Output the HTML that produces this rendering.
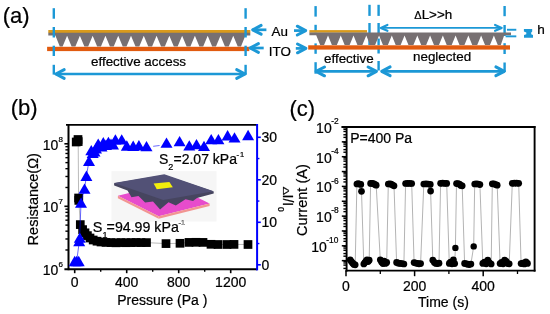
<!DOCTYPE html>
<html><head><meta charset="utf-8"><title>figure</title>
<style>
html,body{margin:0;padding:0;background:#fff;}
svg{display:block;}
text{font-family:"Liberation Sans",Arial,sans-serif;stroke:#000;stroke-width:0.22px;}
</style></head><body>
<svg width="550" height="314" viewBox="0 0 550 314">
<text x="2.8" y="22.6" font-size="22">(a)</text>
<rect x="48.3" y="30.0" width="202.0" height="3.0000000000000027" fill="#d99a1c"/>
<polygon points="48.30,32.70 250.30,32.70 250.30,35.40 245.40,35.40 241.00,46.60 237.74,46.60 233.24,35.80 228.74,46.60 224.96,46.60 220.46,35.80 215.96,46.60 212.18,46.60 207.68,35.80 203.18,46.60 199.40,46.60 194.90,35.80 190.40,46.60 186.62,46.60 182.12,35.80 177.62,46.60 173.84,46.60 169.34,35.80 164.84,46.60 161.06,46.60 156.56,35.80 152.06,46.60 148.28,46.60 143.78,35.80 139.28,46.60 135.50,46.60 131.00,35.80 126.50,46.60 122.72,46.60 118.22,35.80 113.72,46.60 109.94,46.60 105.44,35.80 100.94,46.60 97.16,46.60 92.66,35.80 88.16,46.60 84.38,46.60 79.88,35.80 75.38,46.60 71.60,46.60 67.10,35.80 62.60,46.60 59.80,46.60 55.40,35.40 48.30,35.40" fill="#777072"/>
<rect x="47.1" y="46.8" width="202.20000000000002" height="4.300000000000004" fill="#e15b0f"/>
<rect x="52.599999999999994" y="8.2" width="2.4" height="10.5" fill="#1c98d6"/>
<rect x="52.599999999999994" y="27.0" width="2.4" height="10.5" fill="#1c98d6"/>
<rect x="52.599999999999994" y="45.7" width="2.4" height="10.299999999999997" fill="#1c98d6"/>
<rect x="52.599999999999994" y="64.8" width="2.4" height="9.799999999999997" fill="#1c98d6"/>
<rect x="244.4" y="8.2" width="2.4" height="10.5" fill="#1c98d6"/>
<rect x="244.4" y="27.0" width="2.4" height="10.5" fill="#1c98d6"/>
<rect x="244.4" y="45.7" width="2.4" height="10.299999999999997" fill="#1c98d6"/>
<rect x="244.4" y="64.8" width="2.4" height="9.799999999999997" fill="#1c98d6"/>
<line x1="55.5" y1="74.0" x2="245.4" y2="74.0" stroke="#1c98d6" stroke-width="2.7"/>
<polyline points="64.20,69.60 55.80,74.00 64.20,78.40" fill="none" stroke="#1c98d6" stroke-width="3.0" stroke-linecap="round" stroke-linejoin="round"/>
<polyline points="236.70,69.60 245.10,74.00 236.70,78.40" fill="none" stroke="#1c98d6" stroke-width="3.0" stroke-linecap="round" stroke-linejoin="round"/>
<line x1="252.4" y1="29.8" x2="266.4" y2="29.8" stroke="#1c98d6" stroke-width="2.7"/>
<polyline points="261.10,25.40 252.70,29.80 261.10,34.20" fill="none" stroke="#1c98d6" stroke-width="3.0" stroke-linecap="round" stroke-linejoin="round"/>
<line x1="249.7" y1="48.0" x2="263.7" y2="48.0" stroke="#1c98d6" stroke-width="2.7"/>
<polyline points="258.40,43.60 250.00,48.00 258.40,52.40" fill="none" stroke="#1c98d6" stroke-width="3.0" stroke-linecap="round" stroke-linejoin="round"/>
<text x="271.5" y="35.5" font-size="13.4">Au</text>
<text x="268.8" y="55.7" font-size="13.4">ITO</text>
<text x="91.0" y="65.8" font-size="13.4">effective access</text>
<rect x="368.3" y="4.8" width="2.4" height="11.100000000000001" fill="#1c98d6"/>
<rect x="368.3" y="23.0" width="2.4" height="10.0" fill="#1c98d6"/>
<rect x="368.3" y="39.5" width="2.4" height="5.5" fill="#1c98d6"/>
<rect x="377.40000000000003" y="4.8" width="2.4" height="11.100000000000001" fill="#1c98d6"/>
<rect x="377.40000000000003" y="23.0" width="2.4" height="10.0" fill="#1c98d6"/>
<rect x="377.40000000000003" y="38.5" width="2.4" height="6.799999999999997" fill="#1c98d6"/>
<rect x="377.40000000000003" y="48.5" width="2.4" height="5.0" fill="#1c98d6"/>
<rect x="377.40000000000003" y="61.0" width="2.4" height="9.5" fill="#1c98d6"/>
<rect x="314.40000000000003" y="6.1" width="2.4" height="10.500000000000002" fill="#1c98d6"/>
<rect x="314.40000000000003" y="24.8" width="2.4" height="7.4999999999999964" fill="#1c98d6"/>
<rect x="314.40000000000003" y="43.4" width="2.4" height="10.399999999999999" fill="#1c98d6"/>
<rect x="314.40000000000003" y="62.2" width="2.4" height="11.5" fill="#1c98d6"/>
<rect x="503.40000000000003" y="6.0" width="2.4" height="10.2" fill="#1c98d6"/>
<rect x="503.40000000000003" y="25.0" width="2.4" height="11.0" fill="#1c98d6"/>
<rect x="503.40000000000003" y="43.2" width="2.4" height="10.799999999999997" fill="#1c98d6"/>
<rect x="503.40000000000003" y="62.5" width="2.4" height="9.5" fill="#1c98d6"/>
<rect x="309.4" y="30.1" width="57.60000000000002" height="2.599999999999997" fill="#d99a1c"/>
<polygon points="309.40,32.40 511.00,32.40 511.00,35.20 504.20,35.20 500.80,44.90 497.78,44.90 493.88,35.60 489.98,44.90 485.02,44.90 481.12,35.60 477.22,44.90 472.26,44.90 468.36,35.60 464.46,44.90 459.50,44.90 455.60,35.60 451.70,44.90 446.74,44.90 442.84,35.60 438.94,44.90 433.98,44.90 430.08,35.60 426.18,44.90 421.22,44.90 417.32,35.60 413.42,44.90 408.46,44.90 404.56,35.60 400.66,44.90 395.70,44.90 391.80,35.60 387.90,44.90 382.94,44.90 379.04,35.60 375.14,44.90 370.18,44.90 366.28,35.60 362.38,44.90 357.42,44.90 353.52,35.60 349.62,44.90 344.66,44.90 340.76,35.60 336.86,44.90 331.90,44.90 328.00,35.60 324.10,44.90 320.20,44.90 316.20,35.20 309.40,35.20" fill="#777072"/>
<rect x="308.2" y="45.3" width="201.8" height="4.300000000000004" fill="#e15b0f"/>
<line x1="294.0" y1="30.6" x2="306.2" y2="30.6" stroke="#1c98d6" stroke-width="2.7"/>
<polyline points="297.30,26.20 305.70,30.60 297.30,35.00" fill="none" stroke="#1c98d6" stroke-width="3.0" stroke-linecap="round" stroke-linejoin="round"/>
<line x1="295.8" y1="48.4" x2="306.2" y2="48.4" stroke="#1c98d6" stroke-width="2.7"/>
<polyline points="297.50,44.00 305.90,48.40 297.50,52.80" fill="none" stroke="#1c98d6" stroke-width="3.0" stroke-linecap="round" stroke-linejoin="round"/>
<line x1="380.9" y1="27.9" x2="501.6" y2="27.9" stroke="#1c98d6" stroke-width="1.8"/>
<polyline points="387.40,25.00 380.80,27.90 387.40,30.80" fill="none" stroke="#1c98d6" stroke-width="2.2" stroke-linecap="round" stroke-linejoin="round"/>
<polyline points="495.10,25.00 501.70,27.90 495.10,30.80" fill="none" stroke="#1c98d6" stroke-width="2.2" stroke-linecap="round" stroke-linejoin="round"/>
<line x1="315.8" y1="71.4" x2="376.8" y2="71.4" stroke="#1c98d6" stroke-width="2.7"/>
<polyline points="324.50,67.00 316.10,71.40 324.50,75.80" fill="none" stroke="#1c98d6" stroke-width="3.0" stroke-linecap="round" stroke-linejoin="round"/>
<polyline points="368.10,67.00 376.50,71.40 368.10,75.80" fill="none" stroke="#1c98d6" stroke-width="3.0" stroke-linecap="round" stroke-linejoin="round"/>
<line x1="381.4" y1="71.3" x2="504.6" y2="71.3" stroke="#1c98d6" stroke-width="2.7"/>
<polyline points="390.10,66.90 381.70,71.30 390.10,75.70" fill="none" stroke="#1c98d6" stroke-width="3.0" stroke-linecap="round" stroke-linejoin="round"/>
<polyline points="495.90,66.90 504.30,71.30 495.90,75.70" fill="none" stroke="#1c98d6" stroke-width="3.0" stroke-linecap="round" stroke-linejoin="round"/>
<text x="324.0" y="62.8" font-size="13.4">effective</text>
<text x="413.0" y="61.4" font-size="13.4">neglected</text>
<text x="414.3" y="19.1" font-size="13.4"><tspan font-size="11">Δ</tspan>L&gt;&gt;h</text>
<rect x="507.0" y="28.8" width="9.3" height="1.9" fill="#1c98d6"/>
<rect x="505.6" y="35.4" width="10.7" height="1.9" fill="#1c98d6"/>
<polygon points="523.90,29.10 532.20,29.10 532.20,31.60 531.20,32.40 531.20,34.20 533.00,35.00 533.00,37.80 524.00,37.80 524.00,35.00 526.30,34.20 526.30,32.40 523.90,31.60" fill="#1c98d6"/>
<text x="537.2" y="34.3" font-size="13.6">h</text>
<text x="10.8" y="115.0" font-size="22">(b)</text>
<rect x="111.5" y="171.2" width="105.0" height="50.3" fill="#f6f6f6"/>
<g shape-rendering="auto">
<line x1="66.0" y1="124.9" x2="257.0" y2="124.9" stroke="#000" stroke-width="1.9"/>
<line x1="68.5" y1="124.0" x2="68.5" y2="270.2" stroke="#000" stroke-width="2.0"/>
<line x1="64.4" y1="269.2" x2="257.0" y2="269.2" stroke="#000" stroke-width="1.9"/>
</g>
<line x1="65.4" y1="249.9856252710012" x2="68.5" y2="249.9856252710012" stroke="#000" stroke-width="1.4"/>
<line x1="65.4" y1="238.9799215800211" x2="68.5" y2="238.9799215800211" stroke="#000" stroke-width="1.4"/>
<line x1="65.4" y1="231.17125054200235" x2="68.5" y2="231.17125054200235" stroke="#000" stroke-width="1.4"/>
<line x1="65.4" y1="225.11437472899883" x2="68.5" y2="225.11437472899883" stroke="#000" stroke-width="1.4"/>
<line x1="65.4" y1="220.16554685102227" x2="68.5" y2="220.16554685102227" stroke="#000" stroke-width="1.4"/>
<line x1="65.4" y1="215.98137249910894" x2="68.5" y2="215.98137249910894" stroke="#000" stroke-width="1.4"/>
<line x1="65.4" y1="212.35687581300354" x2="68.5" y2="212.35687581300354" stroke="#000" stroke-width="1.4"/>
<line x1="65.4" y1="209.15984316004221" x2="68.5" y2="209.15984316004221" stroke="#000" stroke-width="1.4"/>
<line x1="64.4" y1="206.3" x2="68.5" y2="206.3" stroke="#000" stroke-width="1.6"/>
<line x1="65.4" y1="187.4856252710012" x2="68.5" y2="187.4856252710012" stroke="#000" stroke-width="1.4"/>
<line x1="65.4" y1="176.4799215800211" x2="68.5" y2="176.4799215800211" stroke="#000" stroke-width="1.4"/>
<line x1="65.4" y1="168.67125054200235" x2="68.5" y2="168.67125054200235" stroke="#000" stroke-width="1.4"/>
<line x1="65.4" y1="162.61437472899883" x2="68.5" y2="162.61437472899883" stroke="#000" stroke-width="1.4"/>
<line x1="65.4" y1="157.66554685102227" x2="68.5" y2="157.66554685102227" stroke="#000" stroke-width="1.4"/>
<line x1="65.4" y1="153.48137249910894" x2="68.5" y2="153.48137249910894" stroke="#000" stroke-width="1.4"/>
<line x1="65.4" y1="149.85687581300354" x2="68.5" y2="149.85687581300354" stroke="#000" stroke-width="1.4"/>
<line x1="65.4" y1="146.65984316004221" x2="68.5" y2="146.65984316004221" stroke="#000" stroke-width="1.4"/>
<line x1="64.4" y1="143.8" x2="68.5" y2="143.8" stroke="#000" stroke-width="1.6"/>
<line x1="74.7" y1="269.2" x2="74.7" y2="273.2" stroke="#000" stroke-width="1.6"/>
<line x1="126.7" y1="269.2" x2="126.7" y2="273.2" stroke="#000" stroke-width="1.6"/>
<line x1="178.7" y1="269.2" x2="178.7" y2="273.2" stroke="#000" stroke-width="1.6"/>
<line x1="230.7" y1="269.2" x2="230.7" y2="273.2" stroke="#000" stroke-width="1.6"/>
<line x1="100.7" y1="269.2" x2="100.7" y2="271.8" stroke="#000" stroke-width="1.4"/>
<line x1="152.7" y1="269.2" x2="152.7" y2="271.8" stroke="#000" stroke-width="1.4"/>
<line x1="204.7" y1="269.2" x2="204.7" y2="271.8" stroke="#000" stroke-width="1.4"/>
<text x="42.8" y="149.5" font-size="14">10</text>
<text x="58.6" y="141.5" font-size="8">8</text>
<text x="42.8" y="212.2" font-size="14">10</text>
<text x="58.6" y="204.2" font-size="8">7</text>
<text x="42.8" y="274.8" font-size="14">10</text>
<text x="58.6" y="266.8" font-size="8">6</text>
<text x="74.7" y="286.7" font-size="14" text-anchor="middle">0</text>
<text x="126.7" y="286.7" font-size="14" text-anchor="middle">400</text>
<text x="178.7" y="286.7" font-size="14" text-anchor="middle">800</text>
<text x="230.7" y="286.7" font-size="14" text-anchor="middle">1200</text>
<text x="117.2" y="305.4" font-size="14">Pressure (Pa )</text>
<text transform="translate(38.2,245.4) rotate(-90)" font-size="14.5">Resistance(Ω)</text>
<polyline points="78.0,139.5 76.2,142.0 78.2,141.6 78.6,198.0 78.8,200.4 80.3,224.6 82.6,229.6 85.0,232.8 87.4,235.6 90.0,238.0 93.2,240.0 97.0,241.2 101.0,242.0 106.0,242.4 111.0,242.6 116.0,242.8 121.0,242.6 126.0,242.7 131.0,242.6 136.0,242.5 141.0,242.6 146.5,242.6 166.0,243.6 180.0,243.3 189.0,242.4 196.0,242.3 203.0,242.4 211.0,244.3 218.0,244.5 227.0,244.5 234.0,244.4 248.0,244.5" fill="none" stroke="#aaa" stroke-width="0.8"/>
<rect x="73.65" y="135.15" width="8.7" height="8.7" fill="#000"/>
<rect x="71.85000000000001" y="137.65" width="8.7" height="8.7" fill="#000"/>
<rect x="73.85000000000001" y="137.25" width="8.7" height="8.7" fill="#000"/>
<rect x="74.25" y="193.65" width="8.7" height="8.7" fill="#000"/>
<rect x="74.45" y="196.05" width="8.7" height="8.7" fill="#000"/>
<rect x="75.95" y="220.25" width="8.7" height="8.7" fill="#000"/>
<rect x="78.25" y="225.25" width="8.7" height="8.7" fill="#000"/>
<rect x="80.65" y="228.45000000000002" width="8.7" height="8.7" fill="#000"/>
<rect x="83.05000000000001" y="231.25" width="8.7" height="8.7" fill="#000"/>
<rect x="85.65" y="233.65" width="8.7" height="8.7" fill="#000"/>
<rect x="88.85000000000001" y="235.65" width="8.7" height="8.7" fill="#000"/>
<rect x="92.65" y="236.85" width="8.7" height="8.7" fill="#000"/>
<rect x="96.65" y="237.65" width="8.7" height="8.7" fill="#000"/>
<rect x="101.65" y="238.05" width="8.7" height="8.7" fill="#000"/>
<rect x="106.65" y="238.25" width="8.7" height="8.7" fill="#000"/>
<rect x="111.65" y="238.45000000000002" width="8.7" height="8.7" fill="#000"/>
<rect x="116.65" y="238.25" width="8.7" height="8.7" fill="#000"/>
<rect x="121.65" y="238.35" width="8.7" height="8.7" fill="#000"/>
<rect x="126.65" y="238.25" width="8.7" height="8.7" fill="#000"/>
<rect x="131.65" y="238.15" width="8.7" height="8.7" fill="#000"/>
<rect x="136.65" y="238.25" width="8.7" height="8.7" fill="#000"/>
<rect x="142.15" y="238.25" width="8.7" height="8.7" fill="#000"/>
<rect x="161.65" y="239.25" width="8.7" height="8.7" fill="#000"/>
<rect x="175.65" y="238.95000000000002" width="8.7" height="8.7" fill="#000"/>
<rect x="184.65" y="238.05" width="8.7" height="8.7" fill="#000"/>
<rect x="191.65" y="237.95000000000002" width="8.7" height="8.7" fill="#000"/>
<rect x="198.65" y="238.05" width="8.7" height="8.7" fill="#000"/>
<rect x="206.65" y="239.95000000000002" width="8.7" height="8.7" fill="#000"/>
<rect x="213.65" y="240.15" width="8.7" height="8.7" fill="#000"/>
<rect x="222.65" y="240.15" width="8.7" height="8.7" fill="#000"/>
<rect x="229.65" y="240.05" width="8.7" height="8.7" fill="#000"/>
<rect x="243.65" y="240.15" width="8.7" height="8.7" fill="#000"/>
<polyline points="76.7,261 79.5,240 81.0,203 84.5,189 86.4,176 89.0,161" fill="none" stroke="#0000ff" stroke-width="0.6"/>
<line x1="153.2" y1="146.3" x2="159.6" y2="145.5" stroke="#5a5aff" stroke-width="0.9"/>
<polygon points="74.70,255.80 80.70,266.20 68.70,266.20" fill="#0000ff"/>
<polygon points="76.70,255.80 82.70,266.20 70.70,266.20" fill="#0000ff"/>
<polygon points="78.70,255.80 84.70,266.20 72.70,266.20" fill="#0000ff"/>
<polygon points="79.20,235.80 85.20,246.20 73.20,246.20" fill="#0000ff"/>
<polygon points="79.80,232.40 85.80,242.80 73.80,242.80" fill="#0000ff"/>
<polygon points="81.00,197.40 87.00,207.80 75.00,207.80" fill="#0000ff"/>
<polygon points="84.50,183.40 90.50,193.80 78.50,193.80" fill="#0000ff"/>
<polygon points="86.40,170.60 92.40,181.00 80.40,181.00" fill="#0000ff"/>
<polygon points="89.00,155.50 95.00,165.90 83.00,165.90" fill="#0000ff"/>
<polygon points="92.70,147.60 98.70,158.00 86.70,158.00" fill="#0000ff"/>
<polygon points="91.30,144.90 97.30,155.30 85.30,155.30" fill="#0000ff"/>
<polygon points="96.00,143.00 102.00,153.40 90.00,153.40" fill="#0000ff"/>
<polygon points="94.50,146.00 100.50,156.40 88.50,156.40" fill="#0000ff"/>
<polygon points="98.20,138.40 104.20,148.80 92.20,148.80" fill="#0000ff"/>
<polygon points="103.30,137.10 109.30,147.50 97.30,147.50" fill="#0000ff"/>
<polygon points="108.40,136.70 114.40,147.10 102.40,147.10" fill="#0000ff"/>
<polygon points="115.40,134.20 121.40,144.60 109.40,144.60" fill="#0000ff"/>
<polygon points="121.70,134.20 127.70,144.60 115.70,144.60" fill="#0000ff"/>
<polygon points="126.80,140.30 132.80,150.70 120.80,150.70" fill="#0000ff"/>
<polygon points="133.20,140.50 139.20,150.90 127.20,150.90" fill="#0000ff"/>
<polygon points="138.90,140.00 144.90,150.40 132.90,150.40" fill="#0000ff"/>
<polygon points="146.50,140.90 152.50,151.30 140.50,151.30" fill="#0000ff"/>
<polygon points="101.50,141.20 107.50,151.60 95.50,151.60" fill="#0000ff"/>
<polygon points="106.00,139.60 112.00,150.00 100.00,150.00" fill="#0000ff"/>
<polygon points="111.00,138.40 117.00,148.80 105.00,148.80" fill="#0000ff"/>
<polygon points="113.00,139.00 119.00,149.40 107.00,149.40" fill="#0000ff"/>
<polygon points="166.50,137.40 172.50,147.80 160.50,147.80" fill="#0000ff"/>
<polygon points="179.60,135.90 185.60,146.30 173.60,146.30" fill="#0000ff"/>
<polygon points="189.30,140.20 195.30,150.60 183.30,150.60" fill="#0000ff"/>
<polygon points="196.50,138.90 202.50,149.30 190.50,149.30" fill="#0000ff"/>
<polygon points="204.00,140.70 210.00,151.10 198.00,151.10" fill="#0000ff"/>
<polygon points="211.20,133.90 217.20,144.30 205.20,144.30" fill="#0000ff"/>
<polygon points="218.40,133.90 224.40,144.30 212.40,144.30" fill="#0000ff"/>
<polygon points="227.60,130.00 233.60,140.40 221.60,140.40" fill="#0000ff"/>
<polygon points="234.50,132.20 240.50,142.60 228.50,142.60" fill="#0000ff"/>
<polygon points="248.10,129.80 254.10,140.20 242.10,140.20" fill="#0000ff"/>
<line x1="257.1" y1="124.0" x2="257.1" y2="270.4" stroke="#0000ff" stroke-width="2.0"/>
<line x1="257.1" y1="264.8" x2="260.8" y2="264.8" stroke="#0000ff" stroke-width="1.6"/>
<line x1="257.1" y1="222.3" x2="260.8" y2="222.3" stroke="#0000ff" stroke-width="1.6"/>
<line x1="257.1" y1="179.8" x2="260.8" y2="179.8" stroke="#0000ff" stroke-width="1.6"/>
<line x1="257.1" y1="137.3" x2="260.8" y2="137.3" stroke="#0000ff" stroke-width="1.6"/>
<line x1="257.1" y1="243.55" x2="259.4" y2="243.55" stroke="#0000ff" stroke-width="1.4"/>
<line x1="257.1" y1="201.05" x2="259.4" y2="201.05" stroke="#0000ff" stroke-width="1.4"/>
<line x1="257.1" y1="158.55" x2="259.4" y2="158.55" stroke="#0000ff" stroke-width="1.4"/>
<text x="261.4" y="269.5" font-size="14">0</text>
<text x="261.4" y="227.0" font-size="14">10</text>
<text x="261.4" y="184.5" font-size="14">20</text>
<text x="261.4" y="142.0" font-size="14">30</text>
<text transform="translate(283.4,186.5) rotate(90) scale(0.93,0.66)" font-size="14">Δ</text>
<text transform="translate(283.4,194.5) rotate(90)" font-size="14">I/I</text>
<text transform="translate(277.6,206.9) rotate(90)" font-size="8.4">0</text>
<polygon points="117.90,195.80 168.80,183.20 209.60,203.60 158.70,216.20" fill="#e74ccc"/>
<polygon points="117.90,195.80 158.70,216.20 158.70,218.80 117.90,198.20" fill="#f29592"/>
<polygon points="158.70,216.20 209.60,203.60 209.60,206.00 158.70,218.80" fill="#f29592"/>
<polygon points="114.00,183.20 164.30,175.00 213.70,191.50 213.70,193.60 197.00,198.00 193.00,201.00 185.50,199.20 175.80,205.40 168.50,202.20 160.10,209.60 153.00,201.50 145.10,202.60 138.50,196.00 131.50,197.20 127.50,190.60 114.20,185.60" fill="#46455f"/>
<polygon points="114.00,182.90 164.30,174.30 213.70,191.30 163.40,200.00" fill="#525176"/>
<polygon points="153.60,183.60 169.40,181.90 172.80,187.30 156.80,189.20" fill="#f3ef0c"/>
<text x="159.0" y="164.1" font-size="14">S</text>
<text x="168.3" y="170.3" font-size="9">2</text>
<text x="173.5" y="164.1" font-size="14">=2.07 kPa</text>
<text x="236.4" y="156.8" font-size="7.5">-</text>
<text x="240.0" y="156.8" font-size="7.5">1</text>
<text x="92.7" y="232.2" font-size="14.4">S</text>
<text x="102.4" y="237.8" font-size="9">1</text>
<text x="106.6" y="232.2" font-size="14.2">=94.99 kPa</text>
<text x="178.6" y="225.2" font-size="7.5" fill="#c4c4c4" stroke="#c4c4c4">-1</text>
<text x="289.5" y="115.6" font-size="22">(c)</text>
<line x1="341.5" y1="127.0" x2="535.5" y2="127.0" stroke="#000" stroke-width="1.9"/>
<line x1="346.6" y1="126.0" x2="346.6" y2="271.6" stroke="#000" stroke-width="1.9"/>
<line x1="345.6" y1="270.6" x2="535.5" y2="270.6" stroke="#000" stroke-width="1.9"/>
<line x1="534.6" y1="126.0" x2="534.6" y2="271.6" stroke="#000" stroke-width="1.9"/>
<line x1="341.8" y1="127.0" x2="346.6" y2="127.0" stroke="#000" stroke-width="1.5"/>
<line x1="343.4" y1="137.37970456438987" x2="346.6" y2="137.37970456438987" stroke="#000" stroke-width="1.4"/>
<line x1="343.4" y1="134.764749367413" x2="346.6" y2="134.764749367413" stroke="#000" stroke-width="1.4"/>
<line x1="343.4" y1="131.47029543561013" x2="346.6" y2="131.47029543561013" stroke="#000" stroke-width="1.4"/>
<line x1="343.4" y1="129.30029410578828" x2="346.6" y2="129.30029410578828" stroke="#000" stroke-width="1.4"/>
<line x1="343.4" y1="127.67949873482603" x2="346.6" y2="127.67949873482603" stroke="#000" stroke-width="1.4"/>
<line x1="341.8" y1="141.85" x2="346.6" y2="141.85" stroke="#000" stroke-width="1.5"/>
<line x1="343.4" y1="152.22970456438986" x2="346.6" y2="152.22970456438986" stroke="#000" stroke-width="1.4"/>
<line x1="343.4" y1="149.614749367413" x2="346.6" y2="149.614749367413" stroke="#000" stroke-width="1.4"/>
<line x1="343.4" y1="146.32029543561012" x2="346.6" y2="146.32029543561012" stroke="#000" stroke-width="1.4"/>
<line x1="343.4" y1="144.15029410578828" x2="346.6" y2="144.15029410578828" stroke="#000" stroke-width="1.4"/>
<line x1="343.4" y1="142.529498734826" x2="346.6" y2="142.529498734826" stroke="#000" stroke-width="1.4"/>
<line x1="341.8" y1="156.7" x2="346.6" y2="156.7" stroke="#000" stroke-width="1.5"/>
<line x1="343.4" y1="167.07970456438989" x2="346.6" y2="167.07970456438989" stroke="#000" stroke-width="1.4"/>
<line x1="343.4" y1="164.46474936741302" x2="346.6" y2="164.46474936741302" stroke="#000" stroke-width="1.4"/>
<line x1="343.4" y1="161.17029543561014" x2="346.6" y2="161.17029543561014" stroke="#000" stroke-width="1.4"/>
<line x1="343.4" y1="159.0002941057883" x2="346.6" y2="159.0002941057883" stroke="#000" stroke-width="1.4"/>
<line x1="343.4" y1="157.37949873482603" x2="346.6" y2="157.37949873482603" stroke="#000" stroke-width="1.4"/>
<line x1="341.8" y1="171.55" x2="346.6" y2="171.55" stroke="#000" stroke-width="1.5"/>
<line x1="343.4" y1="181.92970456438988" x2="346.6" y2="181.92970456438988" stroke="#000" stroke-width="1.4"/>
<line x1="343.4" y1="179.31474936741301" x2="346.6" y2="179.31474936741301" stroke="#000" stroke-width="1.4"/>
<line x1="343.4" y1="176.02029543561014" x2="346.6" y2="176.02029543561014" stroke="#000" stroke-width="1.4"/>
<line x1="343.4" y1="173.8502941057883" x2="346.6" y2="173.8502941057883" stroke="#000" stroke-width="1.4"/>
<line x1="343.4" y1="172.22949873482602" x2="346.6" y2="172.22949873482602" stroke="#000" stroke-width="1.4"/>
<line x1="341.8" y1="186.4" x2="346.6" y2="186.4" stroke="#000" stroke-width="1.5"/>
<line x1="343.4" y1="196.77970456438987" x2="346.6" y2="196.77970456438987" stroke="#000" stroke-width="1.4"/>
<line x1="343.4" y1="194.164749367413" x2="346.6" y2="194.164749367413" stroke="#000" stroke-width="1.4"/>
<line x1="343.4" y1="190.87029543561013" x2="346.6" y2="190.87029543561013" stroke="#000" stroke-width="1.4"/>
<line x1="343.4" y1="188.7002941057883" x2="346.6" y2="188.7002941057883" stroke="#000" stroke-width="1.4"/>
<line x1="343.4" y1="187.07949873482602" x2="346.6" y2="187.07949873482602" stroke="#000" stroke-width="1.4"/>
<line x1="341.8" y1="201.25" x2="346.6" y2="201.25" stroke="#000" stroke-width="1.5"/>
<line x1="343.4" y1="211.62970456438987" x2="346.6" y2="211.62970456438987" stroke="#000" stroke-width="1.4"/>
<line x1="343.4" y1="209.014749367413" x2="346.6" y2="209.014749367413" stroke="#000" stroke-width="1.4"/>
<line x1="343.4" y1="205.72029543561013" x2="346.6" y2="205.72029543561013" stroke="#000" stroke-width="1.4"/>
<line x1="343.4" y1="203.55029410578828" x2="346.6" y2="203.55029410578828" stroke="#000" stroke-width="1.4"/>
<line x1="343.4" y1="201.929498734826" x2="346.6" y2="201.929498734826" stroke="#000" stroke-width="1.4"/>
<line x1="341.8" y1="216.1" x2="346.6" y2="216.1" stroke="#000" stroke-width="1.5"/>
<line x1="343.4" y1="226.47970456438986" x2="346.6" y2="226.47970456438986" stroke="#000" stroke-width="1.4"/>
<line x1="343.4" y1="223.864749367413" x2="346.6" y2="223.864749367413" stroke="#000" stroke-width="1.4"/>
<line x1="343.4" y1="220.57029543561012" x2="346.6" y2="220.57029543561012" stroke="#000" stroke-width="1.4"/>
<line x1="343.4" y1="218.40029410578828" x2="346.6" y2="218.40029410578828" stroke="#000" stroke-width="1.4"/>
<line x1="343.4" y1="216.779498734826" x2="346.6" y2="216.779498734826" stroke="#000" stroke-width="1.4"/>
<line x1="341.8" y1="230.95" x2="346.6" y2="230.95" stroke="#000" stroke-width="1.5"/>
<line x1="343.4" y1="241.32970456438989" x2="346.6" y2="241.32970456438989" stroke="#000" stroke-width="1.4"/>
<line x1="343.4" y1="238.71474936741302" x2="346.6" y2="238.71474936741302" stroke="#000" stroke-width="1.4"/>
<line x1="343.4" y1="235.42029543561014" x2="346.6" y2="235.42029543561014" stroke="#000" stroke-width="1.4"/>
<line x1="343.4" y1="233.2502941057883" x2="346.6" y2="233.2502941057883" stroke="#000" stroke-width="1.4"/>
<line x1="343.4" y1="231.62949873482603" x2="346.6" y2="231.62949873482603" stroke="#000" stroke-width="1.4"/>
<line x1="341.8" y1="245.8" x2="346.6" y2="245.8" stroke="#000" stroke-width="1.5"/>
<line x1="343.4" y1="256.17970456438985" x2="346.6" y2="256.17970456438985" stroke="#000" stroke-width="1.4"/>
<line x1="343.4" y1="253.564749367413" x2="346.6" y2="253.564749367413" stroke="#000" stroke-width="1.4"/>
<line x1="343.4" y1="250.2702954356101" x2="346.6" y2="250.2702954356101" stroke="#000" stroke-width="1.4"/>
<line x1="343.4" y1="248.10029410578827" x2="346.6" y2="248.10029410578827" stroke="#000" stroke-width="1.4"/>
<line x1="343.4" y1="246.479498734826" x2="346.6" y2="246.479498734826" stroke="#000" stroke-width="1.4"/>
<line x1="341.8" y1="260.65" x2="346.6" y2="260.65" stroke="#000" stroke-width="1.5"/>
<line x1="343.4" y1="268.41474936741304" x2="346.6" y2="268.41474936741304" stroke="#000" stroke-width="1.4"/>
<line x1="343.4" y1="265.1202954356101" x2="346.6" y2="265.1202954356101" stroke="#000" stroke-width="1.4"/>
<line x1="343.4" y1="262.95029410578826" x2="346.6" y2="262.95029410578826" stroke="#000" stroke-width="1.4"/>
<line x1="343.4" y1="261.329498734826" x2="346.6" y2="261.329498734826" stroke="#000" stroke-width="1.4"/>
<line x1="346.0" y1="270.6" x2="346.0" y2="276.2" stroke="#000" stroke-width="1.5"/>
<line x1="414.6" y1="270.6" x2="414.6" y2="276.2" stroke="#000" stroke-width="1.5"/>
<line x1="483.20000000000005" y1="270.6" x2="483.20000000000005" y2="276.2" stroke="#000" stroke-width="1.5"/>
<line x1="380.3" y1="270.6" x2="380.3" y2="274.0" stroke="#000" stroke-width="1.3"/>
<line x1="448.9" y1="270.6" x2="448.9" y2="274.0" stroke="#000" stroke-width="1.3"/>
<line x1="517.5" y1="270.6" x2="517.5" y2="274.0" stroke="#000" stroke-width="1.3"/>
<text x="346.0" y="290.8" font-size="14" text-anchor="middle">0</text>
<text x="414.6" y="290.8" font-size="14" text-anchor="middle">200</text>
<text x="483.20000000000005" y="290.8" font-size="14" text-anchor="middle">400</text>
<text x="418.0" y="306.5" font-size="14">Time (s)</text>
<text x="316.1" y="132.8" font-size="14">10</text>
<text x="331.2" y="124.1" font-size="8.4">-2</text>
<text x="316.1" y="162.5" font-size="14">10</text>
<text x="331.2" y="153.79999999999998" font-size="8.4">-4</text>
<text x="316.1" y="192.20000000000002" font-size="14">10</text>
<text x="331.2" y="183.5" font-size="8.4">-6</text>
<text x="316.1" y="221.9" font-size="14">10</text>
<text x="331.2" y="213.2" font-size="8.4">-8</text>
<text x="311.2" y="251.60000000000002" font-size="14">10</text>
<text x="326.2" y="243.20000000000002" font-size="8.4">-10</text>
<text transform="translate(306.8,236.0) rotate(-90)" font-size="14.5">Current (A)</text>
<text x="350.2" y="142.6" font-size="14">P=400 Pa</text>
<polyline points="350.2,259.8 351.4,261.6 352.7,263.2 353.9,264.4 355.2,264.8 356.9,184.0 358.2,183.6 359.5,184.0 360.8,184.4 361.5,191.3 363.8,264.0 364.9,262.6 366.0,261.0 367.0,259.8 368.1,261.6 369.2,260.2 370.6,183.4 372.0,183.3 373.4,183.5 374.8,184.4 376.2,185.2 380.3,259.8 381.6,262.0 382.9,263.6 384.1,261.2 385.4,263.4 386.7,262.4 388.3,184.0 389.7,183.8 391.1,184.0 392.6,185.0 394.0,185.8 396.6,262.4 398.4,263.2 400.2,263.4 402.1,263.6 403.9,264.0 405.6,183.5 407.6,183.3 409.7,183.4 411.7,183.5 414.1,262.6 415.7,263.0 417.4,263.4 419.0,263.8 420.6,263.6 423.8,184.0 426.0,183.8 428.1,184.0 430.3,184.4 430.6,191.1 432.8,260.2 434.4,262.4 435.9,263.4 437.4,263.6 439.0,263.2 440.6,183.3 442.6,183.2 444.7,183.3 446.7,183.4 449.3,263.4 450.6,262.0 452.0,263.8 453.4,259.8 454.7,263.6 455.4,247.9 456.5,183.6 457.9,183.6 459.4,184.2 460.8,185.4 462.2,185.8 464.6,263.4 466.2,263.8 467.8,264.2 469.3,264.6 470.9,264.0 473.7,246.4 474.7,184.0 476.4,183.8 478.2,184.0 479.9,184.6 482.8,263.4 484.5,262.2 486.2,263.8 487.8,260.0 489.5,262.8 491.2,264.0 492.3,183.8 493.9,183.8 495.6,184.6 497.2,185.2 500.1,263.6 501.6,262.4 503.1,263.8 504.6,260.0 506.2,261.4 507.7,263.6 509.2,263.8 512.3,183.3 514.4,183.2 516.6,183.2 518.7,183.3 521.1,263.6 522.7,263.2 524.3,264.0 525.9,261.8 527.5,263.4" fill="none" stroke="#b4b4b4" stroke-width="1.0"/>
<circle cx="350.2" cy="259.8" r="3.35" fill="#000"/>
<circle cx="351.4" cy="261.6" r="3.35" fill="#000"/>
<circle cx="352.7" cy="263.2" r="3.35" fill="#000"/>
<circle cx="353.9" cy="264.4" r="3.35" fill="#000"/>
<circle cx="355.2" cy="264.8" r="3.35" fill="#000"/>
<circle cx="356.9" cy="184.0" r="3.35" fill="#000"/>
<circle cx="358.2" cy="183.6" r="3.35" fill="#000"/>
<circle cx="359.5" cy="184.0" r="3.35" fill="#000"/>
<circle cx="360.8" cy="184.4" r="3.35" fill="#000"/>
<circle cx="361.5" cy="191.3" r="3.35" fill="#000"/>
<circle cx="363.8" cy="264.0" r="3.35" fill="#000"/>
<circle cx="364.9" cy="262.6" r="3.35" fill="#000"/>
<circle cx="366.0" cy="261.0" r="3.35" fill="#000"/>
<circle cx="367.0" cy="259.8" r="3.35" fill="#000"/>
<circle cx="368.1" cy="261.6" r="3.35" fill="#000"/>
<circle cx="369.2" cy="260.2" r="3.35" fill="#000"/>
<circle cx="370.6" cy="183.4" r="3.35" fill="#000"/>
<circle cx="372.0" cy="183.3" r="3.35" fill="#000"/>
<circle cx="373.4" cy="183.5" r="3.35" fill="#000"/>
<circle cx="374.8" cy="184.4" r="3.35" fill="#000"/>
<circle cx="376.2" cy="185.2" r="3.35" fill="#000"/>
<circle cx="380.3" cy="259.8" r="3.35" fill="#000"/>
<circle cx="381.6" cy="262.0" r="3.35" fill="#000"/>
<circle cx="382.9" cy="263.6" r="3.35" fill="#000"/>
<circle cx="384.1" cy="261.2" r="3.35" fill="#000"/>
<circle cx="385.4" cy="263.4" r="3.35" fill="#000"/>
<circle cx="386.7" cy="262.4" r="3.35" fill="#000"/>
<circle cx="388.3" cy="184.0" r="3.35" fill="#000"/>
<circle cx="389.7" cy="183.8" r="3.35" fill="#000"/>
<circle cx="391.1" cy="184.0" r="3.35" fill="#000"/>
<circle cx="392.6" cy="185.0" r="3.35" fill="#000"/>
<circle cx="394.0" cy="185.8" r="3.35" fill="#000"/>
<circle cx="396.6" cy="262.4" r="3.35" fill="#000"/>
<circle cx="398.4" cy="263.2" r="3.35" fill="#000"/>
<circle cx="400.2" cy="263.4" r="3.35" fill="#000"/>
<circle cx="402.1" cy="263.6" r="3.35" fill="#000"/>
<circle cx="403.9" cy="264.0" r="3.35" fill="#000"/>
<circle cx="405.6" cy="183.5" r="3.35" fill="#000"/>
<circle cx="407.6" cy="183.3" r="3.35" fill="#000"/>
<circle cx="409.7" cy="183.4" r="3.35" fill="#000"/>
<circle cx="411.7" cy="183.5" r="3.35" fill="#000"/>
<circle cx="414.1" cy="262.6" r="3.35" fill="#000"/>
<circle cx="415.7" cy="263.0" r="3.35" fill="#000"/>
<circle cx="417.4" cy="263.4" r="3.35" fill="#000"/>
<circle cx="419.0" cy="263.8" r="3.35" fill="#000"/>
<circle cx="420.6" cy="263.6" r="3.35" fill="#000"/>
<circle cx="423.8" cy="184.0" r="3.35" fill="#000"/>
<circle cx="426.0" cy="183.8" r="3.35" fill="#000"/>
<circle cx="428.1" cy="184.0" r="3.35" fill="#000"/>
<circle cx="430.3" cy="184.4" r="3.35" fill="#000"/>
<circle cx="430.6" cy="191.1" r="3.35" fill="#000"/>
<circle cx="432.8" cy="260.2" r="3.35" fill="#000"/>
<circle cx="434.4" cy="262.4" r="3.35" fill="#000"/>
<circle cx="435.9" cy="263.4" r="3.35" fill="#000"/>
<circle cx="437.4" cy="263.6" r="3.35" fill="#000"/>
<circle cx="439.0" cy="263.2" r="3.35" fill="#000"/>
<circle cx="440.6" cy="183.3" r="3.35" fill="#000"/>
<circle cx="442.6" cy="183.2" r="3.35" fill="#000"/>
<circle cx="444.7" cy="183.3" r="3.35" fill="#000"/>
<circle cx="446.7" cy="183.4" r="3.35" fill="#000"/>
<circle cx="449.3" cy="263.4" r="3.35" fill="#000"/>
<circle cx="450.6" cy="262.0" r="3.35" fill="#000"/>
<circle cx="452.0" cy="263.8" r="3.35" fill="#000"/>
<circle cx="453.4" cy="259.8" r="3.35" fill="#000"/>
<circle cx="454.7" cy="263.6" r="3.35" fill="#000"/>
<circle cx="455.4" cy="247.9" r="3.2" fill="#000"/>
<circle cx="456.5" cy="183.6" r="3.35" fill="#000"/>
<circle cx="457.9" cy="183.6" r="3.35" fill="#000"/>
<circle cx="459.4" cy="184.2" r="3.35" fill="#000"/>
<circle cx="460.8" cy="185.4" r="3.35" fill="#000"/>
<circle cx="462.2" cy="185.8" r="3.35" fill="#000"/>
<circle cx="464.6" cy="263.4" r="3.35" fill="#000"/>
<circle cx="466.2" cy="263.8" r="3.35" fill="#000"/>
<circle cx="467.8" cy="264.2" r="3.35" fill="#000"/>
<circle cx="469.3" cy="264.6" r="3.35" fill="#000"/>
<circle cx="470.9" cy="264.0" r="3.35" fill="#000"/>
<circle cx="473.7" cy="246.4" r="3.2" fill="#000"/>
<circle cx="474.7" cy="184.0" r="3.35" fill="#000"/>
<circle cx="476.4" cy="183.8" r="3.35" fill="#000"/>
<circle cx="478.2" cy="184.0" r="3.35" fill="#000"/>
<circle cx="479.9" cy="184.6" r="3.35" fill="#000"/>
<circle cx="482.8" cy="263.4" r="3.35" fill="#000"/>
<circle cx="484.5" cy="262.2" r="3.35" fill="#000"/>
<circle cx="486.2" cy="263.8" r="3.35" fill="#000"/>
<circle cx="487.8" cy="260.0" r="3.35" fill="#000"/>
<circle cx="489.5" cy="262.8" r="3.35" fill="#000"/>
<circle cx="491.2" cy="264.0" r="3.35" fill="#000"/>
<circle cx="492.3" cy="183.8" r="3.35" fill="#000"/>
<circle cx="493.9" cy="183.8" r="3.35" fill="#000"/>
<circle cx="495.6" cy="184.6" r="3.35" fill="#000"/>
<circle cx="497.2" cy="185.2" r="3.35" fill="#000"/>
<circle cx="500.1" cy="263.6" r="3.35" fill="#000"/>
<circle cx="501.6" cy="262.4" r="3.35" fill="#000"/>
<circle cx="503.1" cy="263.8" r="3.35" fill="#000"/>
<circle cx="504.6" cy="260.0" r="3.35" fill="#000"/>
<circle cx="506.2" cy="261.4" r="3.35" fill="#000"/>
<circle cx="507.7" cy="263.6" r="3.35" fill="#000"/>
<circle cx="509.2" cy="263.8" r="3.35" fill="#000"/>
<circle cx="512.3" cy="183.3" r="3.35" fill="#000"/>
<circle cx="514.4" cy="183.2" r="3.35" fill="#000"/>
<circle cx="516.6" cy="183.2" r="3.35" fill="#000"/>
<circle cx="518.7" cy="183.3" r="3.35" fill="#000"/>
<circle cx="521.1" cy="263.6" r="3.35" fill="#000"/>
<circle cx="522.7" cy="263.2" r="3.35" fill="#000"/>
<circle cx="524.3" cy="264.0" r="3.35" fill="#000"/>
<circle cx="525.9" cy="261.8" r="3.35" fill="#000"/>
<circle cx="527.5" cy="263.4" r="3.35" fill="#000"/>
</svg>
</body></html>
